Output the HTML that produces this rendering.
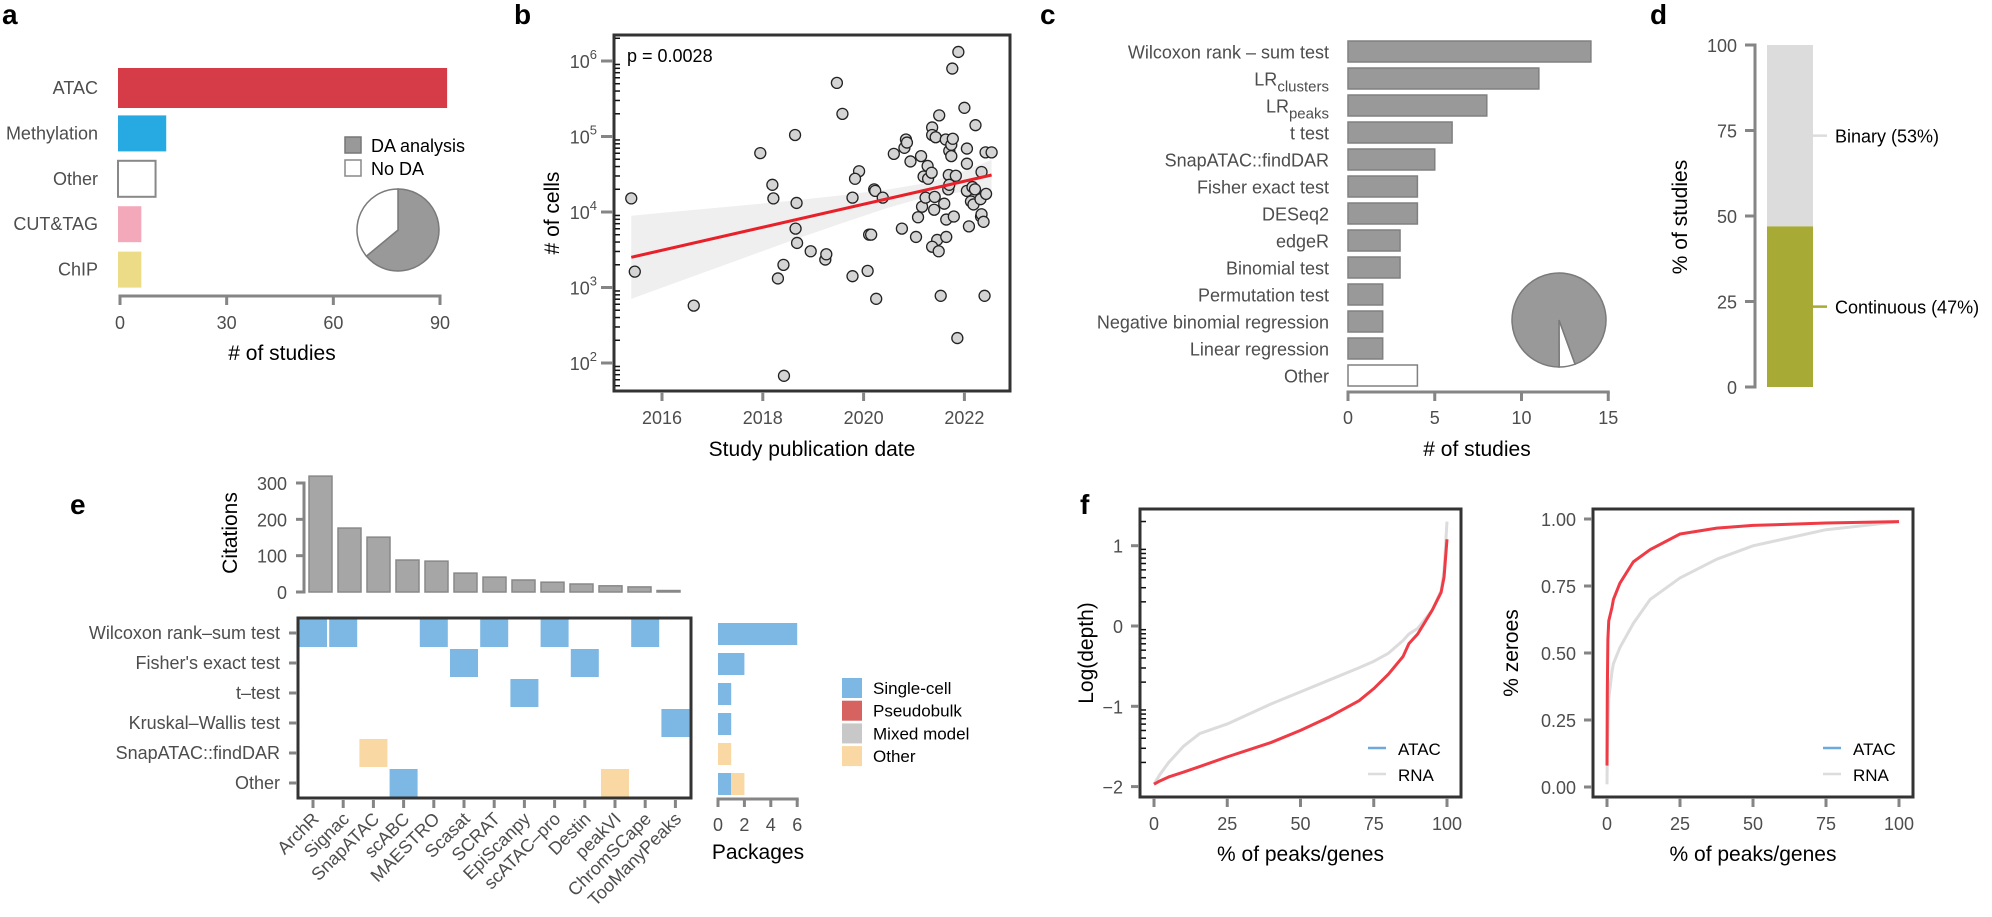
<!DOCTYPE html>
<html><head><meta charset="utf-8"><style>
html,body{margin:0;padding:0;background:#fff;}
svg{display:block;font-family:"Liberation Sans",Arial,sans-serif;}
.tl{fill:#4d4d4d;font-size:18px;}
.tt{fill:#000;font-size:21px;}
.pl{fill:#000;font-size:28px;font-weight:bold;}
</style></head><body>
<svg id="fig" width="1992" height="917" viewBox="0 0 1992 917" xmlns="http://www.w3.org/2000/svg">
<text class="pl" x="2" y="24">a</text>
<text class="pl" x="514" y="24">b</text>
<text class="pl" x="1040" y="24">c</text>
<text class="pl" x="1650" y="24">d</text>
<text class="pl" x="70" y="514">e</text>
<text class="pl" x="1080" y="514">f</text>
<g id="ga"></g>
<g id="gb"></g>
<g id="gc"></g>
<g id="gd"></g>
<g id="ge"></g>
<g id="gf"></g>
</svg>
<script>
// ---------- data ----------
const aCats = ["ATAC","Methylation","Other","CUT&TAG","ChIP"];
const aVals = [92,13,10,6,6];
const aTicks = [0,30,60,90];
const aPie = [64,36];
const bYears = [2015.39,2015.46,2016.63,2017.95,2018.19,2018.21,2018.64,2018.67,2018.65,2018.68,2018.41,2018.30,2018.42,2018.95,2019.24,2019.26,2019.47,2019.58,2019.91,2019.83,2019.78,2019.78,2020.08,2020.11,2020.15,2020.21,2020.23,2020.38,2020.25,2020.60,2020.76,2020.81,2020.84,2020.86,2020.93,2021.04,2021.08,2021.14,2021.16,2021.19,2021.27,2021.28,2021.35,2021.23,2021.36,2021.36,2021.43,2021.40,2021.41,2021.46,2021.36,2021.49,2021.50,2021.53,2021.60,2021.64,2021.64,2021.63,2021.69,2021.70,2021.74,2021.68,2021.70,2021.76,2021.74,2021.77,2021.83,2021.79,2021.88,2021.86,2022.00,2022.05,2022.05,2022.05,2022.09,2022.13,2022.16,2022.18,2022.21,2022.22,2022.32,2022.34,2022.33,2022.34,2022.38,2022.40,2022.43,2022.42,2022.54];
const bLogCells = [4.18,3.21,2.76,4.78,4.36,4.18,5.02,4.12,3.78,3.59,3.30,3.12,1.83,3.48,3.37,3.44,5.71,5.30,4.54,4.44,4.19,3.15,3.22,3.70,3.70,4.30,4.28,4.19,2.85,4.77,3.78,4.85,4.96,4.92,4.67,3.67,3.93,4.74,4.07,4.47,4.61,4.44,4.52,4.19,5.12,5.02,4.99,4.03,4.20,3.63,3.54,3.48,5.28,2.89,4.11,3.67,3.90,4.96,4.49,4.81,4.74,4.30,4.36,5.90,4.89,4.97,4.48,3.94,6.12,2.33,5.38,4.84,4.64,4.28,3.81,4.14,4.33,4.10,4.30,5.15,4.17,4.53,3.94,3.97,3.87,2.89,4.24,4.79,4.79];
const bFitYears = [2015.39,2022.54];
const bFitLog = [3.40,4.49];
const bBandYears = [2015.39,2016.5,2017.5,2018.5,2019.5,2020.5,2021.3,2022.0,2022.54];
const bBandHalf = [0.55,0.45,0.36,0.27,0.19,0.12,0.09,0.14,0.20];
const bXTicks = [2016,2018,2020,2022];
const bYTicks = [2,3,4,5,6];
const cCats = ["Wilcoxon rank – sum test","LR|clusters","LR|peaks","t test","SnapATAC::findDAR","Fisher exact test","DESeq2","edgeR","Binomial test","Permutation test","Negative binomial regression","Linear regression","Other"];
const cVals = [14,11,8,6,5,4,4,3,3,2,2,2,4];
const cTicks = [0,5,10,15];
const cPie = [94.5,5.5];
const dVals = [47,53];
const dLabels = ["Continuous (47%)","Binary (53%)"];
const dTicks = [0,25,50,75,100];
const ePkgs = ["ArchR","Signac","SnapATAC","scABC","MAESTRO","Scasat","SCRAT","EpiScanpy","scATAC–pro","Destin","peakVI","ChromSCape","TooManyPeaks"];
const eCitations = [319,176,151,88,85,52,41,33,27,22,17,14,4];
const eCitTicks = [0,100,200,300];
const eTests = ["Wilcoxon rank–sum test","Fisher's exact test","t–test","Kruskal–Wallis test","SnapATAC::findDAR","Other"];
const eCellCol = [0,1,4,6,8,11,5,9,7,12,2,3,10];
const eCellRow = [0,0,0,0,0,0,1,1,2,3,4,5,5];
const eCellType = [0,0,0,0,0,0,0,0,0,0,3,0,3];
const ePkgSingle = [6,2,1,1,0,1];
const ePkgOther = [0,0,0,0,1,1];
const ePkgTicks = [0,2,4,6];
const eLegend = ["Single-cell","Pseudobulk","Mixed model","Other"];
const fPct = [0,2,5,10,15.6,25,40,50,60,70,75,80,85,87,90,95,98,99,100];
const fAtacDepth = [-1.97,-1.93,-1.88,-1.82,-1.75,-1.63,-1.45,-1.30,-1.13,-0.93,-0.78,-0.60,-0.38,-0.22,-0.10,0.20,0.42,0.61,1.08];
const fRnaDepth = [-1.97,-1.85,-1.70,-1.50,-1.34,-1.22,-0.97,-0.82,-0.67,-0.52,-0.44,-0.34,-0.18,-0.10,-0.03,0.20,0.44,0.70,1.30];
const fDepthTicks = [-2,-1,0,1];
const fZPct = [0,0.1,0.3,0.6,1.7,2.2,4.4,9,14.8,25,37.6,50,75,100];
const fAtacZero = [0.08,0.35,0.55,0.62,0.67,0.70,0.76,0.84,0.886,0.944,0.966,0.976,0.985,0.99];
const fRnaZero = [0.01,0.12,0.22,0.33,0.43,0.46,0.52,0.61,0.70,0.78,0.85,0.90,0.96,0.99];
const fZeroTicks = [0,0.25,0.5,0.75,1];
const fXTicks = [0,25,50,75,100];
// ---------- helpers ----------
const NS="http://www.w3.org/2000/svg";
function mk(parent,tag,attrs,txt){const e=document.createElementNS(NS,tag);for(const k in attrs)e.setAttribute(k,attrs[k]);if(txt!==undefined)e.textContent=txt;parent.appendChild(e);return e;}
const AX="#858585";
function hline(g,x1,x2,y,c,w){return mk(g,"line",{x1:x1,x2:x2,y1:y,y2:y,stroke:c||AX,"stroke-width":w||3});}
function vline(g,x,y1,y2,c,w){return mk(g,"line",{x1:x,x2:x,y1:y1,y2:y2,stroke:c||AX,"stroke-width":w||3});}
function arcPath(cx,cy,r,a0,a1){const p=a=>[cx+r*Math.sin(a*Math.PI/180),cy-r*Math.cos(a*Math.PI/180)];const s=p(a0),e=p(a1);const large=(a1-a0)>180?1:0;return `M${cx},${cy}L${s[0]},${s[1]}A${r},${r} 0 ${large} 1 ${e[0]},${e[1]}Z`;}
function pie(g,cx,cy,r,vals,start,fills,name){let tot=vals.reduce((a,b)=>a+b,0);let a=start;vals.forEach((v,i)=>{const a1=a+v/tot*360;const p=mk(g,"path",{d:arcPath(cx,cy,r,a,a1),fill:fills[i],stroke:"#7a7a7a","stroke-width":1.5});


a=a1;});}

// ---------- panel a ----------
(function(){const g=document.getElementById("ga");
const x=v=>120+v*(320/90);const yc=i=>88+45.4*i;
const cols=["#d63c47","#27a9e1","#ffffff","#f4a9ba","#ecdc87"];
aCats.forEach((c,i)=>{const h=i===0?40:36;const r=mk(g,"rect",{x:118,y:yc(i)-h/2,width:x(aVals[i])-118,height:h,fill:cols[i],stroke:i===2?"#888":"none","stroke-width":2});


const t=mk(g,"text",{x:98,y:yc(i)+6,"text-anchor":"end",class:"tl"},c);

});
hline(g,x(0)-1.5,x(90)+1.5,296);
aTicks.forEach(v=>{vline(g,x(v),296,305);const t=mk(g,"text",{x:x(v),y:329,"text-anchor":"middle",class:"tl"},v);

});
const tt=mk(g,"text",{x:282,y:360,"text-anchor":"middle",class:"tt"},"# of studies");


mk(g,"rect",{x:345,y:137,width:16,height:16,fill:"#999",stroke:"#777","stroke-width":1.5,});
mk(g,"rect",{x:345,y:160,width:16,height:16,fill:"#fff",stroke:"#888","stroke-width":1.5,});
mk(g,"text",{x:371,y:152,"font-size":"18px",fill:"#000",},"DA analysis");
mk(g,"text",{x:371,y:175,"font-size":"18px",fill:"#000",},"No DA");
pie(g,398,230,41,aPie,0,["#999","#fff"],"pie-a");
})();

// ---------- panel b ----------
(function(){const g=document.getElementById("gb");
const x=v=>662+(v-2016)*50.4;const y=v=>61+(6-v)*75.5;
mk(g,"rect",{x:614,y:35,width:396,height:356,fill:"#fff",stroke:"none"});
// band
const fitAt=yr=>bFitLog[0]+(yr-bFitYears[0])*(bFitLog[1]-bFitLog[0])/(bFitYears[1]-bFitYears[0]);
let up=bBandYears.map((yr,i)=>x(yr)+","+y(fitAt(yr)+bBandHalf[i]));
let lo=bBandYears.map((yr,i)=>x(yr)+","+y(fitAt(yr)-bBandHalf[i])).reverse();
const band=mk(g,"polygon",{points:up.concat(lo).join(" "),fill:"#efefef"});


bYears.forEach((yr,i)=>{const c=mk(g,"circle",{cx:x(yr),cy:y(bLogCells[i]),r:5.5,fill:"#d4d4d4",stroke:"#222","stroke-width":1.3});

});
const fl=mk(g,"line",{x1:x(bFitYears[0]),y1:y(bFitLog[0]),x2:x(bFitYears[1]),y2:y(bFitLog[1]),stroke:"#e8202a","stroke-width":3});


mk(g,"rect",{x:614,y:35,width:396,height:356,fill:"none",stroke:"#333","stroke-width":3,});
for(let d=2;d<6.5;d++){for(let k=2;k<10;k++){const v=d+Math.log10(k);if(v>6.35)continue;const yy=y(v);if(yy<36)continue;vline(g,0,0,0);hline(g,615,620,yy,"#111",1.5);}}
for(let k=2;k<10;k++){const yy=y(1+Math.log10(k)+1);}
// minor below 10^2
for(let k=5;k<10;k++){const yy=y(1+Math.log10(k));if(yy<390)hline(g,615,620,yy,"#111",1.5);}
bYTicks.forEach(v=>{hline(g,601,613,y(v));const t=mk(g,"text",{x:597,y:y(v)+7,"text-anchor":"end",class:"tl"});mk(t,"tspan",{},"10");mk(t,"tspan",{dy:-9,"font-size":"13px"},v);

});
bXTicks.forEach(v=>{vline(g,x(v),392,401);const t=mk(g,"text",{x:x(v),y:424,"text-anchor":"middle",class:"tl"},v);

});
mk(g,"text",{x:627,y:62,"font-size":"18px",fill:"#000",},"p = 0.0028");
mk(g,"text",{x:812,y:456,"text-anchor":"middle",class:"tt",},"Study publication date");
mk(g,"text",{x:0,y:0,"text-anchor":"middle",class:"tt",transform:"translate(559,213) rotate(-90)",},"# of cells");
})();

// ---------- panel c ----------
(function(){const g=document.getElementById("gc");
const x=v=>1348+v*17.35;const yc=i=>51.5+27*i;
cCats.forEach((c,i)=>{const r=mk(g,"rect",{x:1348,y:yc(i)-10.5,width:x(cVals[i])-1348,height:21,fill:i===12?"#fff":"#999",stroke:"#808080","stroke-width":1.5});


const t=mk(g,"text",{x:1329,y:yc(i)+7,"text-anchor":"end",class:"tl"});
if(c.indexOf("|")>=0){const p=c.split("|");mk(t,"tspan",{},p[0]);mk(t,"tspan",{dy:6,"font-size":"15px"},p[1]);}else t.textContent=c;

});
hline(g,x(0)-1.5,x(15)+1.5,392);
cTicks.forEach(v=>{vline(g,x(v),392,401);const t=mk(g,"text",{x:x(v),y:424,"text-anchor":"middle",class:"tl"},v);

});
mk(g,"text",{x:1477,y:456,"text-anchor":"middle",class:"tt",},"# of studies");
pie(g,1559,320,47,[cPie[1],cPie[0]],160,["#fff","#999"],"pie-c");
})();

// ---------- panel d ----------
(function(){const g=document.getElementById("gd");
const y=v=>387-v*3.42;
vline(g,1755,y(100)-1.5,y(0)+1.5);
dTicks.forEach(v=>{hline(g,1745,1755,y(v));const t=mk(g,"text",{x:1737,y:y(v)+7,"text-anchor":"end",class:"tl"},v);

});
const cols=["#a8aa36","#dcdcdc"];let base=0;
dVals.forEach((v,i)=>{const r=mk(g,"rect",{x:1767,y:y(base+v),width:46,height:v*3.42,fill:cols[i]});


const mid=y(base+v/2);hline(g,1813,1827,mid,cols[i],2.5);
const t=mk(g,"text",{x:1835,y:mid+7,"font-size":"18px",fill:"#000"},dLabels[i]);


base+=v;});
mk(g,"text",{x:0,y:0,"text-anchor":"middle",class:"tt",transform:"translate(1687,217) rotate(-90)",},"% of studies");
})();

// ---------- panel e ----------
(function(){const g=document.getElementById("ge");
// citations
const cy=v=>592-v*0.3633;
vline(g,304,cy(300)-1.5,cy(0)+1.5);
eCitTicks.forEach(v=>{hline(g,296,304,cy(v));const t=mk(g,"text",{x:287,y:cy(v)+7,"text-anchor":"end",class:"tl"},v);

});
eCitations.forEach((v,i)=>{const r=mk(g,"rect",{x:309+29*i,y:cy(v),width:23,height:v*0.3633,fill:"#a6a6a6",stroke:"#888","stroke-width":1.5});

});
mk(g,"text",{x:0,y:0,"text-anchor":"middle",class:"tt",transform:"translate(237,533) rotate(-90)",},"Citations");
// heatmap
const colX=i=>298+30.2*i;const rowY=j=>618+30*j;
const typeCols=["#7db7e4","#d66360","#c8c8c8","#f9d8a4"];
eCellCol.forEach((c,k)=>{const r=mk(g,"rect",{x:colX(c)+1,y:rowY(eCellRow[k])+1,width:28,height:28,fill:typeCols[eCellType[k]]});

});
mk(g,"rect",{x:298,y:618,width:393,height:180,fill:"none",stroke:"#333","stroke-width":3,});
eTests.forEach((t,j)=>{hline(g,289,297,rowY(j)+15);const tx=mk(g,"text",{x:280,y:rowY(j)+21,"text-anchor":"end",class:"tl"},t);

});
ePkgs.forEach((p,i)=>{const cx=colX(i)+15;vline(g,cx,800,808);const t=mk(g,"text",{x:0,y:0,"text-anchor":"end",class:"tl","font-size":"17px",transform:`translate(${cx+7},${820}) rotate(-45)`},p);

});
// packages bars
const px=v=>718+v*13.2;
ePkgSingle.forEach((v,j)=>{const yy=rowY(j)+5;if(v>0){const r=mk(g,"rect",{x:px(0),y:yy,width:v*13.2,height:22,fill:typeCols[0]});

}
if(ePkgOther[j]>0){const r=mk(g,"rect",{x:px(v),y:yy,width:ePkgOther[j]*13.2,height:22,fill:typeCols[3]});

}});
hline(g,px(0)-1.5,px(6)+1.5,799);
ePkgTicks.forEach(v=>{vline(g,px(v),799,807);const t=mk(g,"text",{x:px(v),y:831,"text-anchor":"middle",class:"tl"},v);

});
mk(g,"text",{x:758,y:859,"text-anchor":"middle",class:"tt",},"Packages");
eLegend.forEach((l,i)=>{const r=mk(g,"rect",{x:842,y:678+22.7*i,width:20,height:20,fill:typeCols[i]});


const t=mk(g,"text",{x:873,y:694+22.7*i,"font-size":"17px",fill:"#000"},l);

});
})();

// ---------- panel f ----------
(function(){const g=document.getElementById("gf");
function plot(x0,x1px,bx,bw,yfn,ticks,tfmt,xs,s1,s2,title,titleX,legX){
 const x=v=>x0+v*(x1px-x0)/100;
 mk(g,"rect",{x:bx,y:509,width:bw,height:288,fill:"#fff"});
 const mkLine=(ys,col,name)=>{const p=mk(g,"polyline",{points:xs.map((v,i)=>x(v)+","+yfn(ys[i])).join(" "),fill:"none",stroke:col,"stroke-width":3,"stroke-linejoin":"round"});
 
 };
 mkLine(s2,"#dcdcdc","rna-line");mkLine(s1,"#ef3b45","atac-line");
 mk(g,"rect",{x:bx,y:509,width:bw,height:288,fill:"none",stroke:"#333","stroke-width":3,});
 ticks.forEach(v=>{hline(g,bx-9,bx-1,yfn(v));const t=mk(g,"text",{x:bx-17,y:yfn(v)+7,"text-anchor":"end",class:"tl"},tfmt(v));
 
 });
 fXTicks.forEach(v=>{vline(g,x(v),798,807);const t=mk(g,"text",{x:x(v),y:830,"text-anchor":"middle",class:"tl"},v);
 
 });
 mk(g,"text",{x:x(50),y:861,"text-anchor":"middle",class:"tt",},"% of peaks/genes");
 mk(g,"text",{x:0,y:0,"text-anchor":"middle",class:"tt",transform:`translate(${titleX},653) rotate(-90)`,},title);
 hline(g,legX,legX+18,748,"#6fa8dc",2.5);hline(g,legX,legX+18,774,"#dcdcdc",2.5);
 mk(g,"text",{x:legX+30,y:755,"font-size":"17px",fill:"#000",},"ATAC");
 mk(g,"text",{x:legX+30,y:781,"font-size":"17px",fill:"#000",},"RNA");
}
const yd=v=>626-v*80.3;
plot(1154,1447,1140,321,yd,fDepthTicks,v=>v<0?"−"+(-v):String(v),fPct,fAtacDepth,fRnaDepth,"Log(depth)",1093,1368);
for(let d=-2;d<=1;d++){for(let k=2;k<10;k++){const v=d+Math.log10(k);const yy=yd(v);if(yy>510&&yy<796)hline(g,1141,1146,yy,"#111",1.5);}}
const yz=v=>787-v*268;
plot(1607,1899,1593,320,yz,fZeroTicks,v=>v.toFixed(2),fZPct,fAtacZero,fRnaZero,"% zeroes",1518,1823);
})();
</script>
</body></html>
